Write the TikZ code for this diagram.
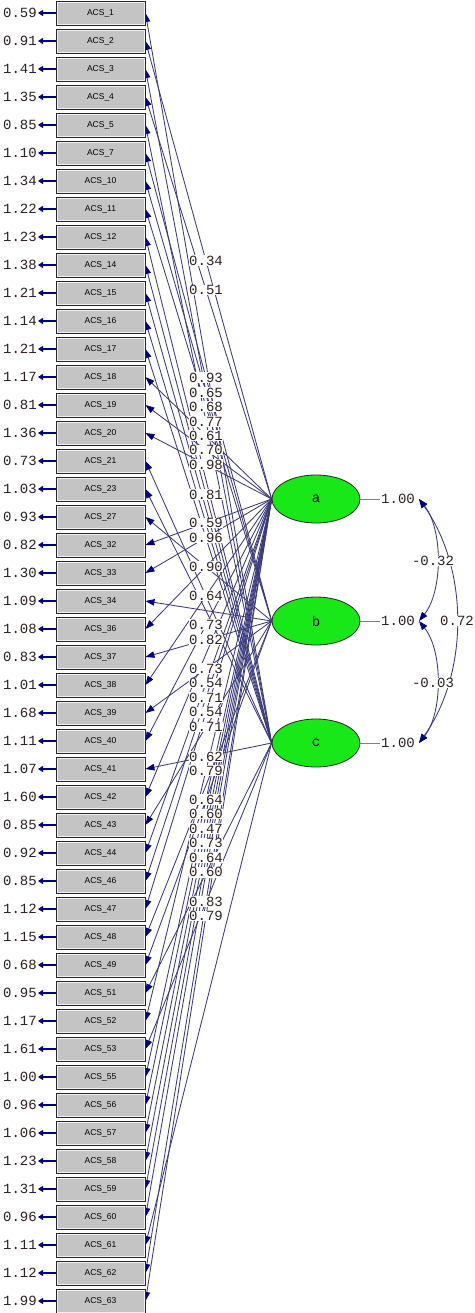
\documentclass[tikz,border=0pt]{standalone}
\usepackage{fontspec}
\setmainfont{Liberation Sans}
\newfontfamily\monofnt{Liberation Mono}
\usetikzlibrary{shapes.geometric,arrows.meta,calc}
\pgfdeclarelayer{bg}
\pgfsetlayers{bg,main}
\definecolor{navyline}{RGB}{60,60,125}
\definecolor{navyhead}{RGB}{0,0,128}
\definecolor{boxfill}{RGB}{196,196,196}
\definecolor{numcol}{RGB}{48,32,32}
\definecolor{latgreen}{RGB}{24,232,24}
\begin{document}
\begin{tikzpicture}[x=1pt,y=-1pt,
  itembox/.style={draw=black!85, line width=0.9pt, fill=boxfill, minimum width=89pt, minimum height=24pt, inner sep=0pt, font=\fontsize{8.5}{9}\selectfont},
  errval/.style={anchor=east, inner sep=1pt, text=numcol, font=\monofnt\fontsize{14}{14}\selectfont},
  errarrow/.style={draw=navyhead, line width=2pt, -{Triangle[length=5pt,width=6pt]}},
  load/.style={draw=navyline, line width=0.85pt, -{Triangle[length=9pt,width=6.5pt,color=navyhead]}},
  latent/.style={ellipse, draw=black!85, line width=0.8pt, fill=latgreen, minimum width=88pt, minimum height=48pt, inner sep=0pt, font=\monofnt\fontsize{14}{14}\selectfont},
  lbl/.style={fill=white, inner sep=0.6pt, text=numcol, font=\monofnt\fontsize{14}{14}\selectfont},
  valtxt/.style={inner sep=1pt, text=numcol, font=\monofnt\fontsize{14}{14}\selectfont},
  varline/.style={draw=gray, line width=0.8pt},
  corr/.style={draw=navyline, line width=0.85pt, {Triangle[length=9pt,width=6.5pt,color=navyhead]}-{Triangle[length=9pt,width=6.5pt,color=navyhead]}}
]
\useasboundingbox (0,0) rectangle (474,1313);
\begin{pgfonlayer}{bg}
\fill[white] (0,0) rectangle (474,1313);
\end{pgfonlayer}

% observed variables
\foreach \k/\n/\e in {0/1/0.59, 1/2/0.91, 2/3/1.41, 3/4/1.35, 4/5/0.85, 5/7/1.10, 6/10/1.34, 7/11/1.22,
  8/12/1.23, 9/14/1.38, 10/15/1.21, 11/16/1.14, 12/17/1.21, 13/18/1.17, 14/19/0.81, 15/20/1.36,
  16/21/0.73, 17/23/1.03, 18/27/0.93, 19/32/0.82, 20/33/1.30, 21/34/1.09, 22/36/1.08, 23/37/0.83,
  24/38/1.01, 25/39/1.68, 26/40/1.11, 27/41/1.07, 28/42/1.60, 29/43/0.85, 30/44/0.92, 31/46/0.85,
  32/47/1.12, 33/48/1.15, 34/49/0.68, 35/51/0.95, 36/52/1.17, 37/53/1.61, 38/55/1.00, 39/56/0.96,
  40/57/1.06, 41/58/1.23, 42/59/1.31, 43/60/0.96, 44/61/1.11, 45/62/1.12, 46/63/1.99} {
  \node[itembox] (i\k) at (100.5,{13+28*\k}) {ACS\_\n};
  \draw[white!88!gray, line width=0.6pt] ([xshift=1.6pt,yshift=-1.6pt]i\k.north west) rectangle ([xshift=-1.6pt,yshift=1.6pt]i\k.south east);
  \node[errval] (e\k) at (38,{13+28*\k}) {\e};
  \draw[errarrow] (i\k.west) -- (e\k.east);
}

% latent variables
\node[latent] (fa) at (316,499) {a};
\node[latent] (fb) at (316,621) {b};
\node[latent] (fc) at (316,743) {c};

% loadings
\begin{pgfonlayer}{bg}
\foreach \k/\f in {0/c, 1/a, 2/c, 3/a, 4/c, 5/b, 6/b, 7/b, 8/c, 9/c, 10/c, 11/c, 12/c, 13/a, 14/a, 15/a,
  16/c, 17/c, 18/b, 19/a, 20/a, 21/b, 22/a, 23/b, 24/a, 25/b, 26/a, 27/c, 28/a, 29/b, 30/a, 31/a,
  32/a, 33/b, 34/b, 35/c, 36/a, 37/c, 38/a, 39/a, 40/a, 41/a, 42/a, 43/a, 44/c, 45/a, 46/a} {
  \draw[load] (f\f.west) -- (i\k.east);
}
\end{pgfonlayer}

\foreach \k/\f/\v in {1/a/0.34, 3/a/0.51, 5/b/0.93, 2/c/0.65, 7/b/0.68, 4/c/0.77, 13/a/0.61, 14/a/0.70,
  15/a/0.98, 9/c/0.81, 19/a/0.59, 20/a/0.96, 22/a/0.90, 24/a/0.64, 26/a/0.73, 23/b/0.82, 25/b/0.73,
  30/a/0.54, 31/a/0.71, 32/a/0.54, 29/b/0.71, 27/c/0.62, 36/a/0.79, 38/a/0.64, 39/a/0.60, 40/a/0.47,
  41/a/0.73, 42/a/0.64, 43/a/0.60, 45/a/0.83, 46/a/0.79} {
  \node[lbl] at ($(f\f.west)!0.52!(i\k.east)$) {\v};
}

% variances of latent variables
\node[valtxt] (va) at (398,499) {1.00};
\node[valtxt] (vb) at (398,621) {1.00};
\node[valtxt] (vc) at (398,743) {1.00};
\draw[varline] (fa.east) -- (va.west);
\draw[varline] (fb.east) -- (vb.west);
\draw[varline] (fc.east) -- (vc.west);

% correlations
\draw[corr] ([xshift=3pt]va.east) .. controls +(24,30) and +(24,-30) .. ([xshift=3pt]vb.east);
\draw[corr] ([xshift=3pt]vb.east) .. controls +(24,30) and +(24,-30) .. ([xshift=3pt]vc.east);
\draw[corr] ([xshift=3pt]va.east) .. controls +(50,70) and +(50,-70) .. ([xshift=3pt]vc.east);
\node[lbl] (rab) at (433,561) {-0.32};
\node[lbl] (rbc) at (433,683) {-0.03};
\node[lbl] (rac) at (457,621) {0.72};
\end{tikzpicture}
\end{document}
